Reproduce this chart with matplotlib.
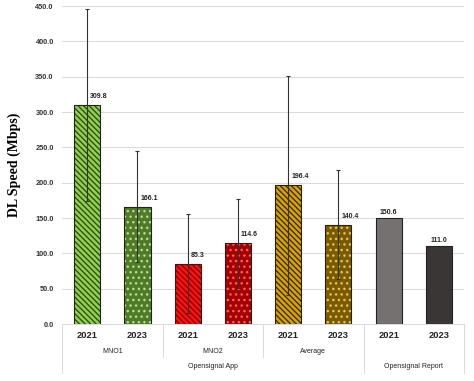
import numpy as np
import matplotlib
matplotlib.use("Agg")
import matplotlib.pyplot as plt

plt.rcParams["font.family"] = ["Liberation Sans", "DejaVu Sans"]
plt.rcParams["hatch.linewidth"] = 1.0

years = ["2021", "2023", "2021", "2023", "2021", "2023", "2021", "2023"]
groups = ["MNO1", "MNO2", "Average"]
sources = ["Opensignal App", "Opensignal Report"]
values = [309.8, 166.1, 85.3, 114.6, 196.4, 140.4, 150.6, 111.0]
errors = [136, 79, 70, 63, 155, 77]
y_ticks = np.arange(0, 451, 50)

fill_colors = ["#92D050", "#4F7A28", "#FF1010", "#A50000",
               "#D9A400", "#7A5A00", "#767171", "#3A3636"]
hatch_colors = ["#2F5010", "#B5E08A", "#8A0000", "#FF6060",
                "#3D2E00", "#E8C440", None, None]
hatches = ["\\\\\\\\\\\\", "...", "\\\\\\\\\\\\", "...",
           "\\\\\\\\\\\\", "...", None, None]

fig = plt.figure(figsize=(4.74, 3.81), dpi=100)
ax = fig.add_axes([0.131, 0.1496, 0.848, 0.8346])

x = np.arange(len(values))
w = 0.52
for i in range(len(values)):
    ax.bar(x[i], values[i], w, color=fill_colors[i], hatch=hatches[i],
           edgecolor=hatch_colors[i] if hatch_colors[i] else fill_colors[i],
           linewidth=0, zorder=2)
    ax.bar(x[i], values[i], w, fill=False, edgecolor="#222222",
           linewidth=0.8, zorder=3)

ax.errorbar(x[:len(errors)], values[:len(errors)], yerr=errors, fmt="none",
            ecolor="#333333", elinewidth=0.8, capsize=1.5, capthick=0.8,
            zorder=4)

for i, v in enumerate(values):
    if i < len(errors):
        ax.text(x[i] + 0.06, v + 7, f"{v:.1f}", ha="left", va="bottom",
                fontsize=5, fontweight="bold", color="#222222", zorder=5)
    else:
        ax.text(x[i], v + 2, f"{v:.1f}", ha="center", va="bottom",
                fontsize=5, fontweight="bold", color="#222222", zorder=5)

ax.set_xlim(-0.5, len(values) - 0.5)
ax.set_ylim(0, 450)
ax.set_yticks(y_ticks)
ax.set_yticklabels([f"{t:.1f}" for t in y_ticks], fontsize=5.3,
                   fontweight="bold", color="#333333")
ax.set_xticks([])
ax.tick_params(axis="y", length=0, pad=6)
ax.grid(axis="y", color="#D9D9D9", linewidth=0.7, zorder=0)
ax.set_axisbelow(True)
for s in ["top", "right", "left"]:
    ax.spines[s].set_visible(False)
ax.spines["bottom"].set_color("#D9D9D9")
ax.spines["bottom"].set_linewidth(0.7)

ax.set_ylabel("DL Speed (Mbps)", fontsize=10, fontweight="bold",
              family="Liberation Serif", labelpad=10)

tr = ax.get_xaxis_transform()
for i, yr in enumerate(years):
    ax.text(x[i], -0.035, yr, transform=tr, ha="center", va="center",
            fontsize=6.7, fontweight="bold", color="#222222")
for g, name in enumerate(groups):
    ax.text(2 * g + 0.5, -0.088, name, transform=tr, ha="center",
            va="center", fontsize=5, color="#222222")
ax.text(2.5, -0.135, sources[0], transform=tr, ha="center", va="center",
        fontsize=5, color="#222222")
ax.text(6.5, -0.135, sources[1], transform=tr, ha="center", va="center",
        fontsize=5, color="#222222")

for xs, y_end in [(-0.5, -0.154), (1.5, -0.104), (3.5, -0.104),
                  (5.5, -0.154), (7.5, -0.154)]:
    ax.plot([xs, xs], [0, y_end], transform=tr, color="#D9D9D9",
            linewidth=0.7, clip_on=False)

fig.savefig("out.png", dpi=100)
